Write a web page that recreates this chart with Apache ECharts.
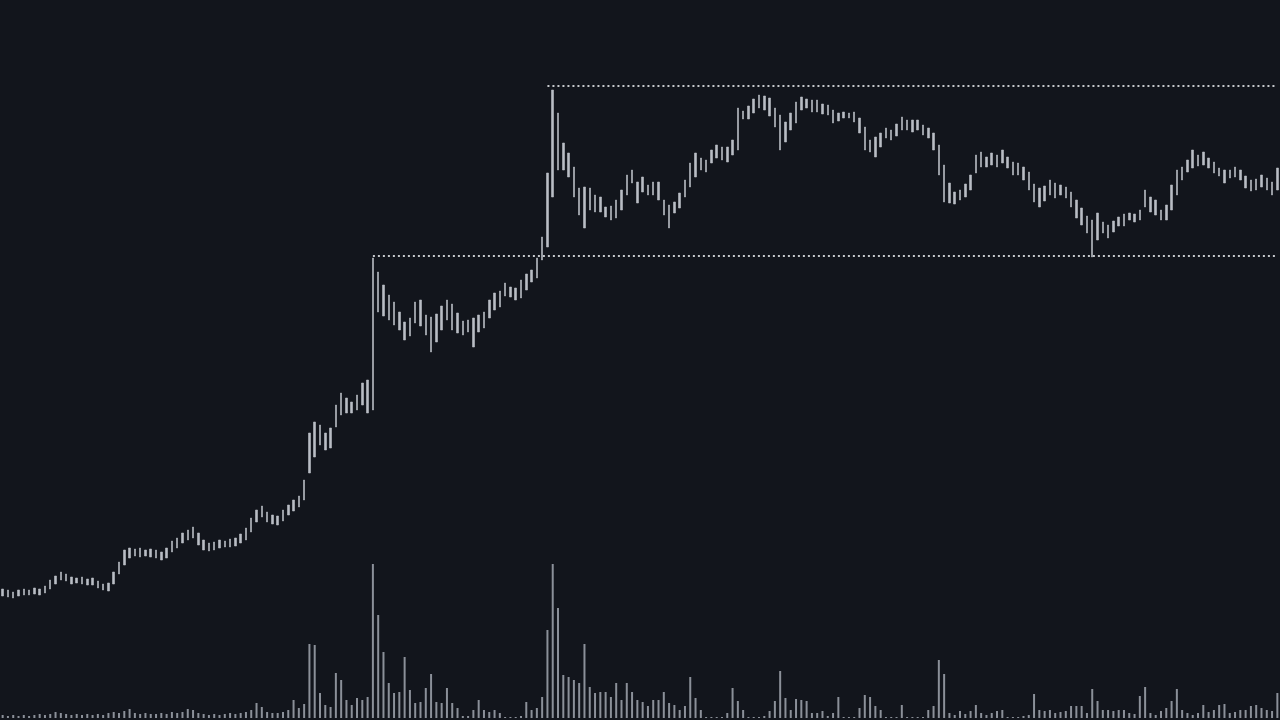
<!DOCTYPE html>
<html>
<head>
<meta charset="utf-8">
<script src="https://cdn.jsdelivr.net/npm/echarts@6/dist/echarts.min.js"></script>
<style>
  html, body { margin: 0; padding: 0; background: #12151c; }
  #chart { width: 1280px; height: 720px; }
</style>
</head>
<body>
<div id="chart"></div>
<script>
// Price bar highs and lows (arbitrary price units), one entry per period
const highs = [131,130,128,130,131,130,132,131,134,140,144,148,146,143,142,143,141,142,139,136,137,148,158,170,172,171,172,170,171,170,168,172,179,182,187,190,193,187,180,177,178,180,179,181,182,186,192,202,210,214,208,205,204,210,215,220,224,240,287,298,295,287,292,315,327,322,318,325,337,340,462,448,435,425,418,408,398,402,418,420,405,403,406,414,420,416,407,399,400,402,405,408,420,427,429,437,433,432,440,446,450,462,483,547,630,607,577,567,553,532,533,532,525,523,513,514,520,530,545,550,538,543,535,538,538,520,515,518,527,540,557,567,562,560,570,575,573,573,580,612,609,614,621,625,624,622,612,605,598,607,618,623,621,620,620,616,615,610,607,608,607,608,602,593,580,583,587,592,590,596,603,600,600,600,595,592,587,575,555,537,528,530,536,545,565,568,563,567,565,570,563,558,557,553,548,536,532,534,540,537,535,533,528,520,512,504,500,507,498,495,499,503,506,507,506,510,530,523,520,510,515,535,550,553,560,570,565,568,562,558,552,550,550,553,550,544,540,541,545,542,538,552];
const lows = [124,123,122,124,125,125,126,125,127,131,136,140,139,136,137,136,135,135,132,130,129,136,146,155,162,164,163,164,163,162,160,162,168,172,177,180,182,175,170,169,170,172,173,173,174,177,180,188,198,203,198,196,195,199,205,209,213,220,247,263,275,270,272,293,305,307,307,310,315,307,310,408,404,400,395,390,380,384,397,394,385,368,378,390,400,390,387,385,388,373,388,392,402,410,413,424,423,420,422,430,438,442,460,473,523,550,550,543,523,505,492,510,508,508,503,500,502,510,525,537,517,528,525,525,520,505,492,507,512,523,533,543,550,548,557,562,560,558,565,570,601,601,607,612,610,604,593,570,578,590,597,610,612,608,608,606,605,597,599,602,602,598,587,570,568,563,573,582,580,584,590,590,588,590,585,582,570,545,518,517,516,520,523,530,547,553,553,555,553,557,552,545,545,540,530,518,513,519,525,522,525,522,513,502,495,487,463,480,487,482,488,494,494,500,498,500,513,508,505,500,500,510,525,540,548,552,554,555,552,547,544,537,542,543,540,532,529,530,533,530,525,530];
// Traded volume per period (arbitrary units)
const volumes = [3,2,3,2,3,2,3,4,3,4,6,5,4,3,4,3,4,3,4,3,5,6,5,7,9,5,4,5,4,4,5,4,6,5,6,9,8,5,4,3,4,3,4,5,4,5,6,8,15,11,6,5,5,6,8,18,10,14,74,73,25,13,11,45,38,18,13,20,18,21,154,103,66,35,25,26,61,28,15,16,30,44,16,15,30,15,10,2,2,8,18,8,6,8,5,1,1,1,2,16,8,10,21,88,154,110,43,41,38,35,74,31,25,26,26,21,35,18,35,26,18,16,12,18,18,26,15,13,8,12,41,20,8,1,1,1,1,5,30,17,8,1,1,1,2,7,17,47,20,8,19,18,17,5,5,7,2,5,21,1,1,1,10,23,21,12,8,1,1,1,13,1,1,1,1,8,12,58,44,5,3,7,4,7,13,5,3,5,7,8,1,1,1,2,3,24,8,7,8,5,6,7,12,12,12,5,29,17,8,8,7,8,8,5,4,22,31,5,3,7,10,17,29,8,5,3,5,13,6,8,13,14,5,6,8,8,12,13,10,8,7,25];
// Horizontal range levels (price units) and the period index where each begins
const levelValues = [634, 464];
const levelStarts = [103, 70];

const periods = highs.map((_, i) => 'P' + (i + 1));
const ohlc = highs.map((h, i) => [lows[i], h, lows[i], h]);

const chart = echarts.init(document.getElementById('chart'), null, { renderer: 'canvas' });
const lineStyle = { color: '#d9dbe0', width: 2, type: [2, 3], opacity: 0.9 };
chart.setOption({
  backgroundColor: '#12151c',
  animation: false,
  grid: [
    { left: 0, right: 0, top: 0, bottom: 0 },
    { left: 0, right: 0, top: 558, height: 160 }
  ],
  xAxis: [
    { type: 'category', data: periods, gridIndex: 0, show: false, boundaryGap: true },
    { type: 'category', data: periods, gridIndex: 1, show: false, boundaryGap: true }
  ],
  yAxis: [
    { type: 'value', gridIndex: 0, min: 0, max: 720, show: false, splitLine: { show: false } },
    { type: 'value', gridIndex: 1, min: 0, max: 160, show: false, splitLine: { show: false } }
  ],
  series: [
    {
      type: 'bar',
      xAxisIndex: 1,
      yAxisIndex: 1,
      data: volumes,
      barWidth: 2,
      itemStyle: { color: '#8b9099' },
      silent: true
    },
    {
      type: 'candlestick',
      xAxisIndex: 0,
      yAxisIndex: 0,
      data: ohlc,
      barWidth: 2,
      itemStyle: {
        color: '#b9bdc5', color0: '#b9bdc5',
        borderColor: '#b9bdc5', borderColor0: '#b9bdc5',
        borderWidth: 0.6
      },
      silent: true,
      markLine: {
        symbol: ['none', 'none'],
        silent: true,
        label: { show: false },
        lineStyle: lineStyle,
        data: levelValues.map((v, k) => [
          { coord: [levelStarts[k], v] },
          { coord: [periods.length - 1, v] }
        ])
      }
    }
  ]
});
</script>
</body>
</html>
